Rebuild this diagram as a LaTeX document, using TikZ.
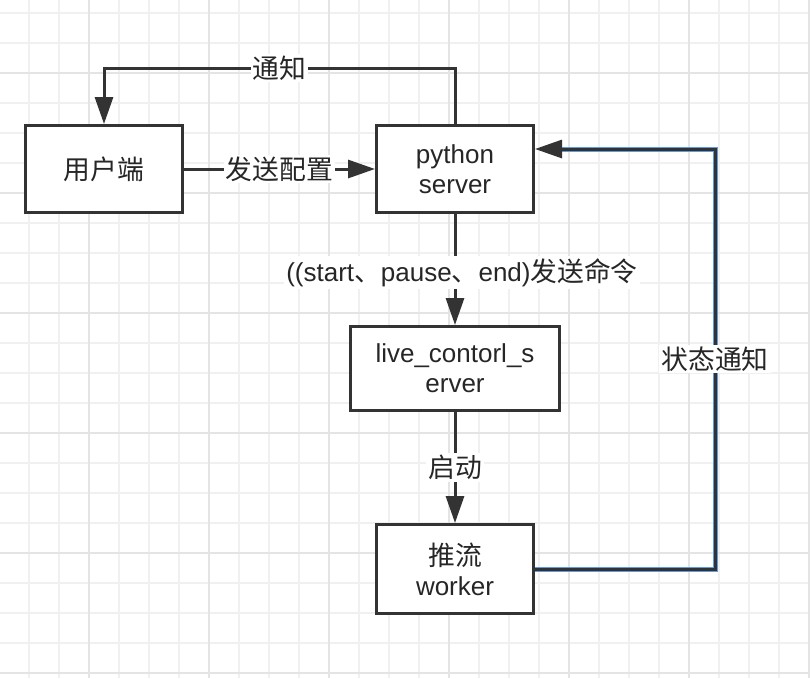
\documentclass[tikz,border=0pt]{standalone}
\usepackage{fontspec}
\setmainfont{Liberation Sans}
\newfontfamily\cjkfont{Noto Sans CJK SC}[Scale=1.03]
\newcommand\zhtext[1]{{\cjkfont #1}}
\usetikzlibrary{arrows.meta,calc}
\definecolor{linec}{HTML}{333333}
\definecolor{textc}{HTML}{262626}
\definecolor{gridminor}{HTML}{F0F0F0}
\definecolor{gridmajor}{HTML}{E4E4E4}
\definecolor{glowc}{HTML}{5E9BE0}
\tikzset{
  box/.style={draw=linec, line width=3pt, fill=white, text=textc, align=center,
    font=\fontsize{26}{30}\selectfont, inner sep=0pt},
  conn/.style={draw=linec, line width=3pt, -{Triangle[length=27pt,width=18pt]}},
  lbl/.style={fill=white, text=textc, inner sep=2pt, font=\fontsize{26}{30}\selectfont},
  gminor/.style={draw=gridminor, line width=2pt},
  gmajor/.style={draw=gridmajor, line width=2pt},
}
\begin{document}
\begin{tikzpicture}[x=1pt,y=-1pt]
\useasboundingbox (0,0) rectangle (810,678);
\fill[white] (0,0) rectangle (810,678);
% grid
\foreach \x in {-1,29,...,809} \draw[gminor] (\x,0) -- (\x,678);
\foreach \y in {13,43,...,673} \draw[gminor] (0,\y) -- (810,\y);
\foreach \x in {89,209,...,809} \draw[gmajor] (\x,0) -- (\x,678);
\foreach \y in {73,193,...,673} \draw[gmajor] (0,\y) -- (810,\y);
% nodes
\node[box, minimum width=157pt, minimum height=87pt] (user) at (104,169) {\zhtext{用户端}};
\node[box, minimum width=157pt, minimum height=87pt] (python) at (455,169) {python\\server};
\node[box, minimum width=209pt, minimum height=84pt] (live) at (455,368.5) {live\_contorl\_s\\erver};
\node[box, minimum width=157pt, minimum height=89pt] (worker) at (455,569) {\zhtext{推流}\\worker};
% connectors
\draw[conn] (python.north) -- ++(0,-56) -| node[pos=0.25, lbl] {\zhtext{通知}} (user.north);
\draw[conn] (user.east) -- node[lbl] {\zhtext{发送配置}} (python.west);
\draw[conn] (python.south) -- node[lbl, xshift=7pt, yshift=-3pt] {((start\zhtext{、}pause\zhtext{、}end)\zhtext{发送命令}} (live.north);
\draw[conn] (live.south) -- node[lbl] {\zhtext{启动}} (worker.north);
\coordinate (pin) at ([yshift=20pt]python.east);
\draw[conn, preaction={draw=glowc, line width=5pt, arrows=-, shorten >=24pt}]
  (worker.east) -- ++(180,0) |- node[pos=0.25, lbl] {\zhtext{状态通知}} (pin);
\end{tikzpicture}
\end{document}
